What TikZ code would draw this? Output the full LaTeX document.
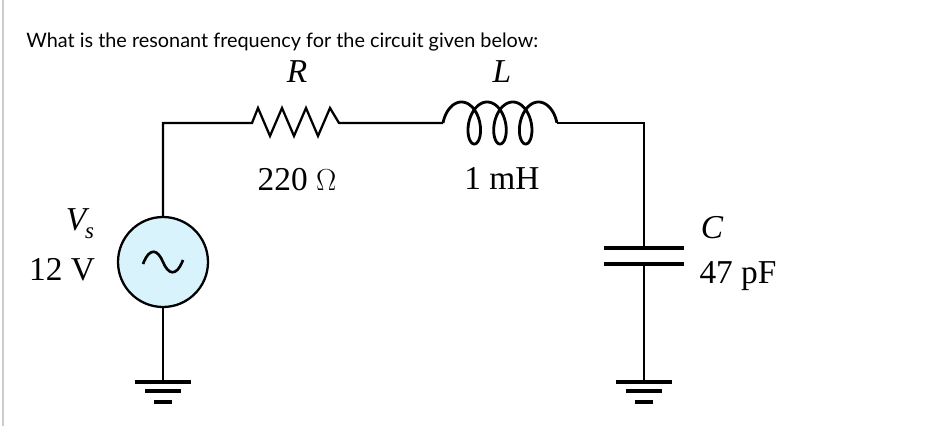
\documentclass[tikz,border=0pt]{standalone}
\usepackage{fontspec}
\setmainfont{Liberation Serif}
\newfontfamily\lato{Lato}
\usetikzlibrary{positioning}
\tikzstyle{wire} = [draw, line width=1.3pt]
\tikzstyle{plate} = [draw, line width=2.6pt]
\tikzstyle{lbl} = [font=\fontsize{19}{22}\selectfont, inner sep=0pt]
\tikzstyle{title} = [font=\lato\fontsize{11.3}{13}\selectfont, inner sep=0pt, anchor=west]

\begin{document}
\begin{tikzpicture}[x=0.02cm, y=-0.02cm]
    \useasboundingbox (0,0) rectangle (942,426);
    \draw[gray!40, line width=0.8pt] (3,0) -- (3,426);
    % Place nodes
    \node [title] (q) at (26,42) {What is the resonant frequency for the circuit given below:};
    \node [circle, draw, line width=1.3pt, fill=cyan!15, inner sep=0pt, minimum size=1.8cm] (src) at (163,262) {};
    \coordinate (tl) at (163,123);
    \coordinate (rIn) at (252,123);
    \coordinate (rOut) at (345,123);
    \coordinate (lIn) at (443,123);
    \coordinate (lOut) at (557,123);
    \coordinate (tr) at (644,123);
    \coordinate (cTop) at (644,248);
    \coordinate (cBot) at (644,264);
    \coordinate (gL) at (163,382);
    \coordinate (gR) at (644,382);
    \node [lbl, font=\fontsize{19}{22}\selectfont\itshape] (rName) at (297,72) {R};
    \node [lbl, font=\fontsize{19}{22}\selectfont\itshape] (lName) at (502,72) {L};
    \node [lbl] (rVal) at (297,180) {220 $\Omega$};
    \node [lbl] (lVal) at (502,178) {1 mH};
    \node [lbl] (vName) at (80,224) {\textit{V}\kern-2.5pt\raisebox{-0.5ex}{\fontsize{13}{15}\selectfont\itshape s}};
    \node [lbl] (vVal) at (62,270) {12 V};
    \node [lbl, font=\fontsize{19}{22}\selectfont\itshape] (cName) at (712,228) {C};
    \node [lbl] (cVal) at (738,276) {47 pF};

    % Draw edges
    \path [wire] (src) -- (tl) -- (rIn)
        -- ++(6,-15) -- ++(12,28) -- ++(12,-28) -- ++(12,28) -- ++(12,-28) -- ++(12,28) -- ++(12,-28) -- ++(9,15)
        -- (rOut) -- (lIn);
    \draw[line width=1.6pt] plot[domain=0:21.99, samples=300, smooth]
        ({443 + 25.7*\x/6.2832 + 12*(1-cos(\x r))}, {123 - 21*sin(\x r)});
    \path [wire] (lOut) -- (tr) -- (cTop);
    \path [plate] (604,248) -- (684,248);
    \path [plate] (604,264) -- (684,264);
    \path [wire] (cBot) -- (gR);
    \path [wire] (src) -- (gL);
    \foreach \g in {gL,gR} {
        \path [draw, line width=2.4pt] ([shift={(-28,0)}]\g) -- ([shift={(28,0)}]\g);
        \path [draw, line width=2.4pt] ([shift={(-18,9)}]\g) -- ([shift={(18,9)}]\g);
        \path [draw, line width=2.4pt] ([shift={(-9,20)}]\g) -- ([shift={(9,20)}]\g);
    }
    \draw[line width=1.5pt] (143,264) .. controls (150,246) and (158,250) .. (163,262) .. controls (168,274) and (176,278) .. (183,260);
\end{tikzpicture}
\end{document}
